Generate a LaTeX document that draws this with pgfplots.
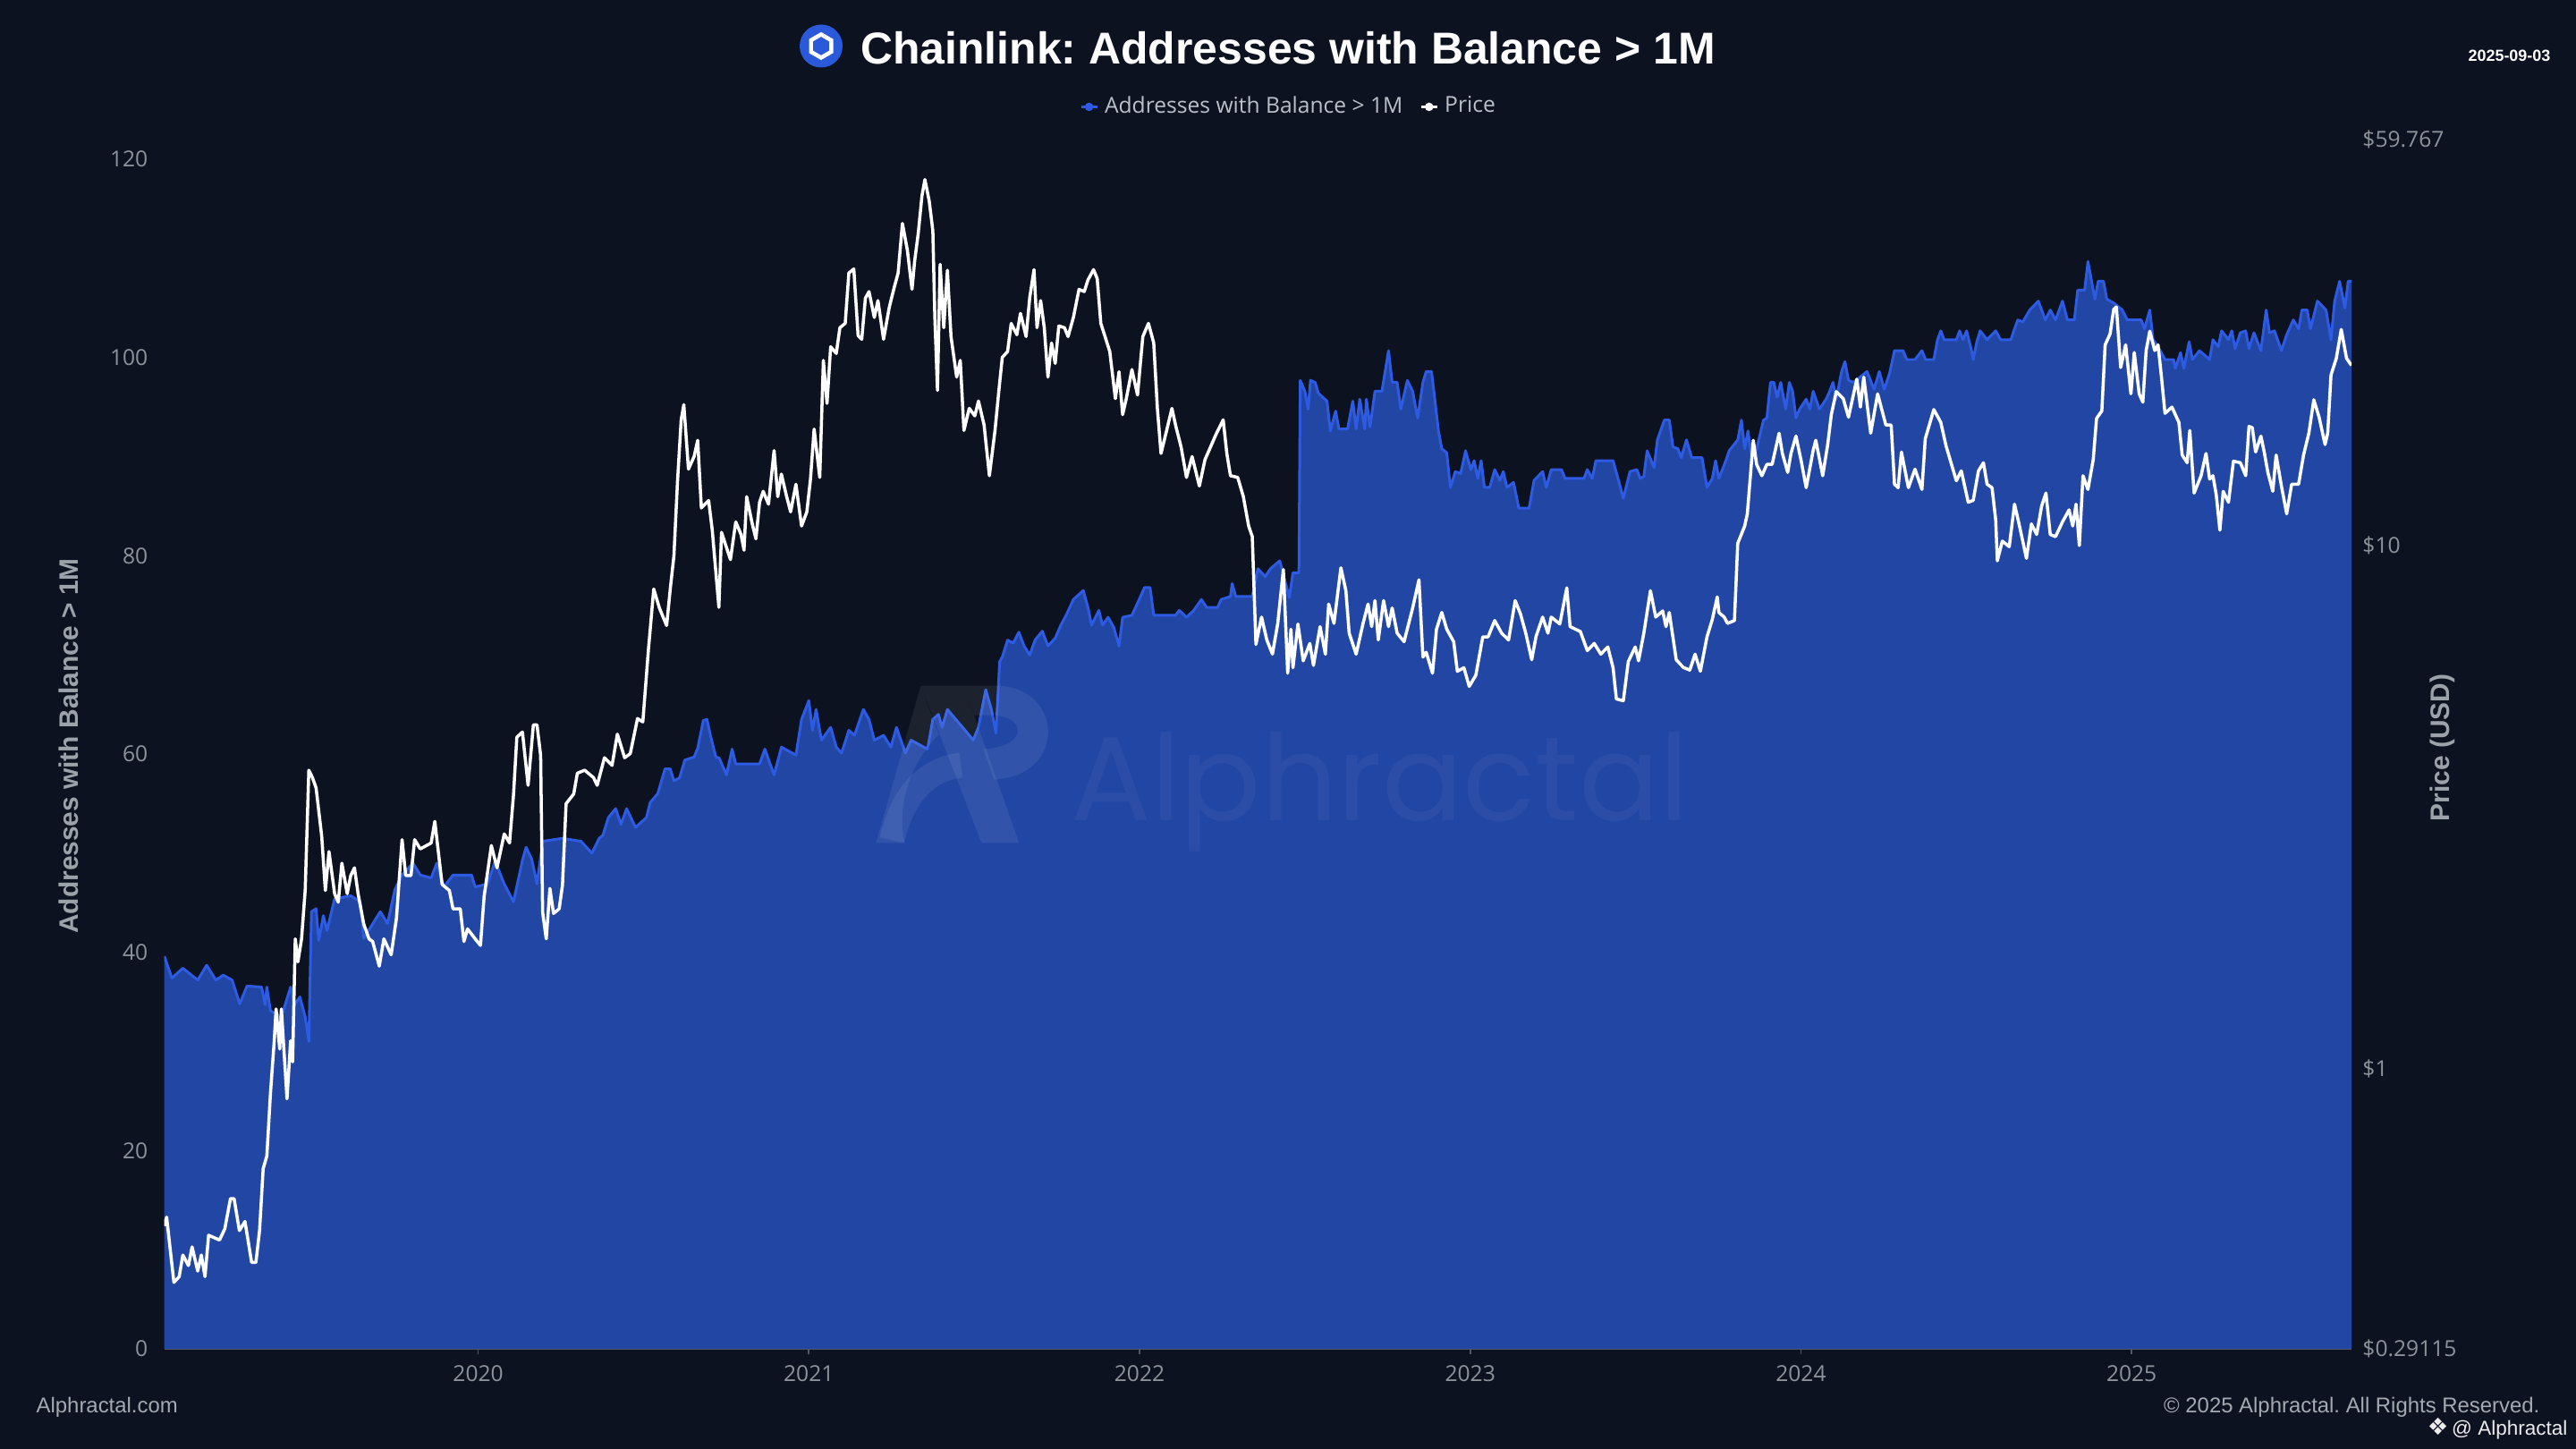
\documentclass[border=0pt]{standalone}
\usepackage{fontspec}
\setmainfont{Liberation Sans}
\newfontfamily\osans{Open Sans}
\newfontfamily\wmfont{Poppins}
\newfontfamily\djv{DejaVu Sans}
\usepackage{pgfplots}
\pgfplotsset{compat=1.18}
\usepackage{pgfplotstable}
\frenchspacing
\definecolor{bg}{HTML}{0C1220}
\definecolor{areafill}{HTML}{2246A4}
\definecolor{arealine}{HTML}{2D5BE3}
\definecolor{ticklab}{HTML}{8E939B}
\definecolor{leglab}{HTML}{BCC0C8}
\definecolor{axlab}{HTML}{9DA2AA}
\definecolor{foot}{HTML}{A5A9B1}
\definecolor{logoblue}{HTML}{2A5ADA}

\pgfplotstableread{
x y
2019.051 39.6
2019.074 37.4
2019.107 38.4
2019.152 37.2
2019.179 38.7
2019.207 37.2
2019.229 37.7
2019.256 37.2
2019.279 34.8
2019.301 36.6
2019.345 36.5
2019.356 34.7
2019.361 36.5
2019.372 34.1
2019.405 33.5
2019.433 36.5
2019.444 34.7
2019.461 35.5
2019.477 33.5
2019.488 31.0
2019.496 44.1
2019.510 44.4
2019.518 41.2
2019.532 43.7
2019.543 42.2
2019.566 45.4
2019.615 45.7
2019.643 45.1
2019.654 41.4
2019.676 42.6
2019.704 44.1
2019.726 42.9
2019.748 46.3
2019.770 47.8
2019.803 49.0
2019.825 47.8
2019.858 47.5
2019.875 49.0
2019.897 46.6
2019.924 47.8
2019.980 47.8
2019.991 46.6
2020.029 46.9
2020.051 49.2
2020.079 46.9
2020.107 45.1
2020.134 49.3
2020.145 50.6
2020.162 49.4
2020.178 46.9
2020.195 51.2
2020.255 51.5
2020.311 51.2
2020.344 50.0
2020.366 51.5
2020.377 51.8
2020.394 53.6
2020.416 54.5
2020.432 52.9
2020.449 54.5
2020.476 52.6
2020.509 53.6
2020.520 55.1
2020.543 56.0
2020.565 58.5
2020.581 58.5
2020.592 57.3
2020.609 57.6
2020.625 59.4
2020.653 59.7
2020.664 60.6
2020.681 63.4
2020.692 63.5
2020.703 61.8
2020.719 59.7
2020.729 59.6
2020.751 57.9
2020.768 60.5
2020.779 59.0
2020.851 59.0
2020.867 60.5
2020.895 57.9
2020.917 60.7
2020.961 59.9
2020.978 63.5
2021.000 65.4
2021.011 62.4
2021.022 64.5
2021.038 61.4
2021.066 62.7
2021.083 60.7
2021.099 60.1
2021.121 62.4
2021.138 61.9
2021.165 64.5
2021.182 63.5
2021.198 61.4
2021.226 61.9
2021.248 60.7
2021.265 62.7
2021.292 60.1
2021.309 61.4
2021.359 60.5
2021.375 63.5
2021.392 64.0
2021.403 62.7
2021.419 64.5
2021.480 62.1
2021.497 61.4
2021.513 62.7
2021.535 66.5
2021.552 64.5
2021.566 62.1
2021.577 69.3
2021.585 69.8
2021.601 71.5
2021.618 71.2
2021.635 72.3
2021.651 70.9
2021.668 70.0
2021.684 71.5
2021.706 72.4
2021.723 70.9
2021.745 71.7
2021.762 73.0
2021.778 74.0
2021.800 75.6
2021.830 76.5
2021.844 74.8
2021.855 73.0
2021.877 74.5
2021.888 73.0
2021.905 73.8
2021.922 72.8
2021.938 70.9
2021.949 73.8
2021.977 74.0
2021.999 75.6
2022.015 76.8
2022.032 76.8
2022.043 74.0
2022.109 74.0
2022.120 74.5
2022.142 73.8
2022.164 74.5
2022.187 75.6
2022.203 74.8
2022.236 74.8
2022.247 75.6
2022.275 75.9
2022.280 77.2
2022.291 75.9
2022.341 75.9
2022.358 78.7
2022.380 77.9
2022.396 78.7
2022.424 79.5
2022.453 75.8
2022.464 78.3
2022.482 78.3
2022.486 97.7
2022.500 96.6
2022.510 94.8
2022.517 97.7
2022.531 97.5
2022.541 96.4
2022.567 95.6
2022.577 92.6
2022.593 94.6
2022.603 92.8
2022.629 92.8
2022.645 95.6
2022.655 92.8
2022.666 95.8
2022.681 92.8
2022.686 95.8
2022.697 93.0
2022.712 96.6
2022.733 96.6
2022.753 100.7
2022.764 97.5
2022.779 97.5
2022.790 94.8
2022.810 97.7
2022.826 96.6
2022.841 93.9
2022.857 97.5
2022.867 98.6
2022.883 98.6
2022.893 95.8
2022.904 92.6
2022.914 90.8
2022.929 90.4
2022.940 86.9
2022.955 88.5
2022.971 88.3
2022.986 90.6
2023.002 88.7
2023.012 89.6
2023.023 87.8
2023.033 89.6
2023.043 86.9
2023.059 86.9
2023.074 88.7
2023.090 87.6
2023.100 88.5
2023.111 86.9
2023.131 87.4
2023.147 84.8
2023.178 84.8
2023.193 87.6
2023.219 88.5
2023.230 86.9
2023.245 88.7
2023.276 88.7
2023.287 87.8
2023.344 87.8
2023.354 88.7
2023.369 87.8
2023.380 89.6
2023.432 89.6
2023.447 87.8
2023.463 85.8
2023.483 88.5
2023.504 88.7
2023.514 87.8
2023.525 88.0
2023.535 90.6
2023.556 88.9
2023.566 91.7
2023.587 93.7
2023.602 93.7
2023.613 91.0
2023.628 90.8
2023.638 89.9
2023.654 91.7
2023.670 89.9
2023.701 89.9
2023.716 86.9
2023.732 87.8
2023.742 89.6
2023.752 87.8
2023.773 89.6
2023.783 90.6
2023.809 91.7
2023.820 93.7
2023.830 90.8
2023.840 92.6
2023.851 89.9
2023.866 90.8
2023.887 93.7
2023.897 93.9
2023.908 97.5
2023.918 97.5
2023.928 96.0
2023.939 97.5
2023.954 94.8
2023.965 97.5
2023.975 96.6
2023.985 93.9
2023.996 94.8
2024.016 95.8
2024.027 94.8
2024.037 96.6
2024.056 94.8
2024.076 95.8
2024.087 96.6
2024.097 97.5
2024.107 95.8
2024.123 98.6
2024.133 99.6
2024.144 97.7
2024.159 97.5
2024.200 98.6
2024.221 96.8
2024.237 98.6
2024.252 96.8
2024.268 98.4
2024.283 100.7
2024.309 100.7
2024.320 99.8
2024.345 99.8
2024.366 100.7
2024.377 99.8
2024.402 99.8
2024.413 101.8
2024.423 102.7
2024.433 101.8
2024.470 101.8
2024.480 102.7
2024.490 101.8
2024.501 102.7
2024.516 100.7
2024.521 99.8
2024.532 101.6
2024.542 102.7
2024.563 101.8
2024.589 102.7
2024.604 101.8
2024.635 101.8
2024.646 102.9
2024.656 103.8
2024.671 103.6
2024.692 104.8
2024.718 105.7
2024.728 104.8
2024.739 103.8
2024.754 104.8
2024.770 103.8
2024.791 105.7
2024.806 103.8
2024.827 103.8
2024.837 106.8
2024.858 106.8
2024.868 109.7
2024.879 107.7
2024.889 105.9
2024.899 107.7
2024.915 107.7
2024.925 105.9
2024.946 105.5
2024.972 104.8
2024.987 103.8
2025.029 103.8
2025.039 102.9
2025.055 104.8
2025.065 101.8
2025.080 101.1
2025.101 99.8
2025.127 99.8
2025.132 98.9
2025.148 100.5
2025.158 98.9
2025.174 101.6
2025.184 99.8
2025.205 100.7
2025.236 99.8
2025.246 101.8
2025.262 101.1
2025.272 102.7
2025.293 101.8
2025.303 102.7
2025.313 100.9
2025.329 102.5
2025.345 102.7
2025.355 100.9
2025.370 102.5
2025.391 100.7
2025.407 104.8
2025.417 102.5
2025.432 102.7
2025.453 100.7
2025.469 102.3
2025.489 103.8
2025.505 102.9
2025.515 104.8
2025.531 104.8
2025.541 102.9
2025.562 105.7
2025.588 104.8
2025.603 101.8
2025.614 105.7
2025.629 107.7
2025.645 105.0
2025.655 107.7
2025.665 107.7
}\bluedata

\pgfplotstableread{
x y
2019.051 0.50
2019.058 0.52
2019.080 0.39
2019.096 0.40
2019.107 0.44
2019.124 0.42
2019.135 0.456
2019.152 0.41
2019.163 0.44
2019.174 0.40
2019.185 0.48
2019.218 0.47
2019.234 0.494
2019.251 0.564
2019.262 0.564
2019.278 0.49
2019.295 0.51
2019.315 0.426
2019.328 0.426
2019.339 0.49
2019.350 0.644
2019.361 0.68
2019.372 0.897
2019.383 1.12
2019.389 1.30
2019.400 1.09
2019.405 1.30
2019.422 0.875
2019.433 1.13
2019.439 1.03
2019.447 1.77
2019.455 1.60
2019.466 1.77
2019.477 2.19
2019.488 3.72
2019.499 3.60
2019.510 3.44
2019.527 2.78
2019.538 2.19
2019.549 2.60
2019.566 2.16
2019.577 2.08
2019.588 2.47
2019.604 2.16
2019.615 2.34
2019.626 2.42
2019.637 2.16
2019.654 1.89
2019.670 1.77
2019.681 1.75
2019.701 1.57
2019.715 1.77
2019.737 1.65
2019.753 1.94
2019.770 2.74
2019.781 2.34
2019.797 2.34
2019.808 2.74
2019.825 2.63
2019.858 2.70
2019.869 2.97
2019.891 2.25
2019.913 2.19
2019.924 2.02
2019.946 2.02
2019.957 1.75
2019.968 1.85
2019.991 1.77
2020.007 1.72
2020.018 2.13
2020.040 2.67
2020.057 2.42
2020.079 2.81
2020.095 2.70
2020.107 3.34
2020.117 4.30
2020.134 4.40
2020.151 3.48
2020.167 4.54
2020.178 4.54
2020.189 3.97
2020.195 1.99
2020.206 1.77
2020.217 2.21
2020.228 1.98
2020.245 2.02
2020.255 2.24
2020.266 3.21
2020.289 3.35
2020.300 3.67
2020.322 3.72
2020.349 3.60
2020.360 3.48
2020.382 3.93
2020.405 3.80
2020.421 4.36
2020.443 3.93
2020.460 4.00
2020.482 4.67
2020.498 4.60
2020.515 6.33
2020.531 8.26
2020.548 7.60
2020.570 7.03
2020.581 8.26
2020.592 9.55
2020.603 13.3
2020.614 17.4
2020.622 18.6
2020.636 14.0
2020.653 14.8
2020.664 15.9
2020.675 11.8
2020.697 12.2
2020.708 10.7
2020.728 7.62
2020.736 10.6
2020.763 9.4
2020.779 11.1
2020.795 10.5
2020.804 9.8
2020.812 12.4
2020.829 11.0
2020.840 10.3
2020.851 12.1
2020.862 12.7
2020.878 12.0
2020.895 15.2
2020.906 12.4
2020.917 13.7
2020.933 12.4
2020.945 11.6
2020.961 13.1
2020.978 10.9
2020.994 11.6
2021.005 13.4
2021.016 16.7
2021.033 13.5
2021.044 22.6
2021.055 18.7
2021.066 24.0
2021.083 23.3
2021.094 26.1
2021.110 26.6
2021.121 33.2
2021.136 33.8
2021.149 25.2
2021.160 24.8
2021.171 29.7
2021.182 30.6
2021.198 27.3
2021.209 29.4
2021.226 24.8
2021.243 28.5
2021.259 31.3
2021.270 33.2
2021.283 41.3
2021.298 36.7
2021.312 30.9
2021.320 35.0
2021.331 39.6
2021.342 46.6
2021.351 50.1
2021.364 45.6
2021.375 40.0
2021.381 27.4
2021.389 19.8
2021.397 34.5
2021.408 26.1
2021.419 33.6
2021.430 25.1
2021.447 21.0
2021.458 22.6
2021.469 16.6
2021.485 18.3
2021.502 17.7
2021.513 18.9
2021.530 17.0
2021.546 13.6
2021.563 16.6
2021.574 19.6
2021.585 22.9
2021.601 23.5
2021.612 26.6
2021.629 25.3
2021.640 27.8
2021.657 25.1
2021.668 29.8
2021.681 33.7
2021.690 26.1
2021.701 29.4
2021.712 26.1
2021.723 21.0
2021.734 24.4
2021.745 22.3
2021.756 26.3
2021.773 26.1
2021.784 25.1
2021.800 27.3
2021.817 30.9
2021.833 30.6
2021.844 32.2
2021.861 33.7
2021.872 32.4
2021.883 26.6
2021.894 25.3
2021.910 23.5
2021.927 19.1
2021.938 21.5
2021.949 17.8
2021.960 19.1
2021.977 21.7
2021.994 19.4
2022.010 25.1
2022.027 26.6
2022.043 24.4
2022.054 18.3
2022.065 15.0
2022.082 16.6
2022.098 18.3
2022.109 17.0
2022.126 15.4
2022.142 13.5
2022.159 14.8
2022.181 13.0
2022.198 14.6
2022.214 15.4
2022.231 16.3
2022.253 17.4
2022.264 15.0
2022.275 13.6
2022.297 13.5
2022.314 12.4
2022.330 10.9
2022.341 10.4
2022.352 6.47
2022.369 7.3
2022.385 6.6
2022.402 6.2
2022.418 7.1
2022.435 9.0
2022.448 5.70
2022.458 6.92
2022.464 5.84
2022.479 7.08
2022.495 6.02
2022.515 6.5
2022.526 5.9
2022.546 7.0
2022.562 6.2
2022.572 7.73
2022.588 7.1
2022.609 9.07
2022.624 8.2
2022.634 6.8
2022.655 6.2
2022.676 7.1
2022.691 7.73
2022.702 7.0
2022.712 7.85
2022.722 6.6
2022.738 7.85
2022.753 7.0
2022.764 7.6
2022.779 6.8
2022.800 6.55
2022.826 7.6
2022.845 8.6
2022.857 6.12
2022.867 6.25
2022.886 5.7
2022.898 6.92
2022.914 7.45
2022.929 6.92
2022.950 6.55
2022.961 5.75
2022.981 5.84
2022.997 5.38
2023.017 5.65
2023.038 6.69
2023.054 6.69
2023.074 7.19
2023.095 6.8
2023.116 6.6
2023.136 7.85
2023.152 7.4
2023.168 6.8
2023.186 6.05
2023.199 6.7
2023.219 7.3
2023.235 6.8
2023.245 7.3
2023.271 7.08
2023.292 8.3
2023.302 7.0
2023.333 6.85
2023.354 6.3
2023.375 6.5
2023.395 6.2
2023.416 6.4
2023.432 5.84
2023.442 5.09
2023.463 5.05
2023.478 6.0
2023.499 6.4
2023.509 6.02
2023.525 6.8
2023.545 8.2
2023.561 7.3
2023.582 7.5
2023.592 7.0
2023.602 7.45
2023.623 6.05
2023.644 5.85
2023.664 5.78
2023.680 6.2
2023.696 5.75
2023.716 6.69
2023.732 7.22
2023.747 7.98
2023.752 7.45
2023.768 7.3
2023.778 7.1
2023.799 7.19
2023.809 10.1
2023.830 10.9
2023.838 11.5
2023.846 13.3
2023.856 15.9
2023.866 14.3
2023.882 13.6
2023.897 14.3
2023.913 14.3
2023.934 16.4
2023.944 15.0
2023.960 13.8
2023.970 15.0
2023.985 16.2
2024.001 14.5
2024.016 12.9
2024.037 15.2
2024.045 15.9
2024.066 13.6
2024.081 15.6
2024.092 17.8
2024.107 19.7
2024.128 19.1
2024.144 17.6
2024.169 20.8
2024.180 18.4
2024.190 21.0
2024.211 16.4
2024.232 19.5
2024.257 17.0
2024.273 17.0
2024.283 13.1
2024.294 12.9
2024.304 15.1
2024.325 12.9
2024.345 14.0
2024.366 12.8
2024.376 16.0
2024.387 16.9
2024.402 18.2
2024.423 17.2
2024.439 15.5
2024.454 14.4
2024.470 13.3
2024.485 13.9
2024.506 12.1
2024.521 12.2
2024.537 13.9
2024.552 14.4
2024.563 13.1
2024.578 12.9
2024.589 11.2
2024.594 9.35
2024.609 10.2
2024.630 9.95
2024.646 12.0
2024.661 10.9
2024.682 9.45
2024.697 11.0
2024.713 10.5
2024.728 11.9
2024.741 12.6
2024.754 10.5
2024.770 10.4
2024.791 11.1
2024.811 11.7
2024.822 10.9
2024.832 12.0
2024.842 10.0
2024.853 13.6
2024.868 12.8
2024.884 14.6
2024.894 17.5
2024.910 18.1
2024.920 24.2
2024.935 25.4
2024.946 28.3
2024.954 28.6
2024.967 21.9
2024.982 24.2
2024.998 19.5
2025.008 23.4
2025.023 19.5
2025.034 18.8
2025.044 23.6
2025.055 25.7
2025.070 23.6
2025.080 24.2
2025.091 20.8
2025.101 17.9
2025.122 18.4
2025.143 17.2
2025.153 14.9
2025.168 14.4
2025.176 16.6
2025.189 12.6
2025.210 13.6
2025.225 15.0
2025.236 13.4
2025.246 13.6
2025.256 12.5
2025.267 10.7
2025.277 12.7
2025.293 12.1
2025.308 14.5
2025.329 14.4
2025.345 13.6
2025.355 16.9
2025.365 16.8
2025.375 15.1
2025.391 16.2
2025.401 15.1
2025.412 13.8
2025.427 12.7
2025.437 14.9
2025.453 13.0
2025.469 11.5
2025.484 13.1
2025.505 13.1
2025.520 14.9
2025.536 16.4
2025.551 19.0
2025.567 17.6
2025.585 15.6
2025.593 16.4
2025.603 21.2
2025.619 22.8
2025.634 25.9
2025.650 22.8
2025.665 22.1
}\pricedata

\begin{document}
\begin{tikzpicture}
\path[use as bounding box, fill=bg] (0,0) rectangle (28.8cm,16.2cm);

\begin{axis}[
  at={(1.837cm,1.12cm)}, anchor=south west,
  scale only axis, width=24.453cm, height=13.52cm,
  xmin=2019.051, xmax=2025.665, ymin=0, ymax=122,
  axis x line*=bottom, axis y line*=left,
  x axis line style={draw=ticklab!55!bg, line width=0.6pt, -},
  y axis line style={draw=none, -},
  xtick={2020,2021,2022,2023,2024,2025},
  xticklabels={2020,2021,2022,2023,2024,2025},
  ytick={0,20,40,60,80,100,120},
  yticklabels={0,20,40,60,80,100,120},
  tick align=outside,
  major tick length=0.06cm,
  xtick style={draw=ticklab!55!bg, line width=0.5pt},
  ytick style={draw=none},
  tick label style={font=\osans\fontsize{7}{8}\selectfont, text=ticklab},
  legend style={at={(0.515,1.027)}, anchor=center, draw=none, fill=none,
    font=\osans\fontsize{7}{8}\selectfont, text=leglab, legend columns=-1,
    /tikz/every even column/.append style={column sep=0.12cm}},
  legend cell align=left,
]
\addlegendimage{legend image code/.code={\draw[arealine, line width=0.8pt] (0cm,0cm) -- (0.18cm,0cm); \fill[arealine] (0.09cm,0cm) circle (0.04cm);}}
\addlegendentry{Addresses with Balance > 1M}
\addlegendimage{legend image code/.code={\draw[white, line width=0.8pt] (0cm,0cm) -- (0.18cm,0cm); \fill[white] (0.09cm,0cm) circle (0.04cm);}}
\addlegendentry{Price}
\addplot[forget plot, fill=areafill, draw=none] table {\bluedata} \closedcycle;
\addplot[forget plot, draw=arealine, line width=0.85pt, line join=round] table {\bluedata};
\end{axis}

% watermark
\begin{scope}[x=0.01cm, y=-0.01cm, shift={(0cm,16.2cm)}]
  \fill[white, opacity=0.07] (1030,767) -- (1078,767) -- (1140,943) -- (1098,943) -- cycle;
  \fill[white, opacity=0.07] (980,943) -- (1030,767) -- (1050,822) .. controls (1022,850) and (1002,895) .. (1012,943) -- cycle;
  \draw[white, opacity=0.07, line width=0.28cm] (998,940) .. controls (1010,885) and (1040,860) .. (1075,856);
  \fill[white, opacity=0.07] (1078,767) -- (1113,767) .. controls (1190,767) and (1195,868) .. (1112,872) -- (1100,838) .. controls (1150,836) and (1150,800) .. (1108,800) -- (1090,800) -- cycle;
  \node[anchor=base west, font=\wmfont\fontsize{38}{40}\selectfont, text=white, opacity=0.045, inner sep=0pt] at (1197,918) {Alphractal};
\end{scope}

\begin{axis}[
  at={(1.837cm,1.12cm)}, anchor=south west,
  scale only axis, width=24.453cm, height=13.52cm,
  xmin=2019.051, xmax=2025.665,
  ymode=log, ymin=0.29115, ymax=59.767,
  axis x line=none, axis y line*=right,
  y axis line style={draw=none, -},
  ytick={0.29115,1,10,59.767},
  yticklabels={\$0.29115,\$1,\$10,\$59.767},
  ytick style={draw=none},
  tick label style={font=\osans\fontsize{7}{8}\selectfont, text=ticklab},
]
\addplot[white, line width=1pt, line join=round] table {\pricedata};
\end{axis}

% title and icon
\fill[logoblue] (9.18cm,15.685cm) circle (0.24cm);
\draw[white, line width=0.045cm, line join=miter]
  (9.18cm,15.685cm) ++(90:0.13cm) -- ++(-30:0.13cm) -- ++(-90:0.13cm) -- ++(-150:0.13cm) -- ++(150:0.13cm) -- ++(90:0.13cm) -- cycle;
\node[anchor=base, font=\bfseries\fontsize{14.2}{16}\selectfont, text=white, inner sep=0pt] at (14.40cm,15.48cm) {Chainlink: Addresses with Balance > 1M};
\node[anchor=base east, font=\bfseries\fontsize{5.1}{6}\selectfont, text=white, inner sep=0pt] at (28.52cm,15.51cm) {2025-09-03};

% axis titles
\node[rotate=90, font=\bfseries\fontsize{8.5}{10}\selectfont, text=axlab] at (0.77cm,7.86cm) {Addresses with Balance > 1M};
\node[rotate=90, font=\bfseries\fontsize{8.5}{10}\selectfont, text=axlab] at (27.31cm,7.84cm) {Price (USD)};

% footer
\node[anchor=base west, font=\fontsize{6.8}{8}\selectfont, text=foot, inner sep=0pt] at (0.40cm,0.40cm) {Alphractal.com};
\node[anchor=base east, font=\fontsize{6.8}{8}\selectfont, text=foot, inner sep=0pt] at (28.40cm,0.40cm) {© 2025 Alphractal. All Rights Reserved.};
\node[anchor=base east, font=\fontsize{6.4}{8}\selectfont, text=white!92!bg, inner sep=0pt] at (28.71cm,0.15cm) {{\djv\fontsize{7.5}{8}\selectfont ❖}\,@ Alphractal};
\end{tikzpicture}
\end{document}
